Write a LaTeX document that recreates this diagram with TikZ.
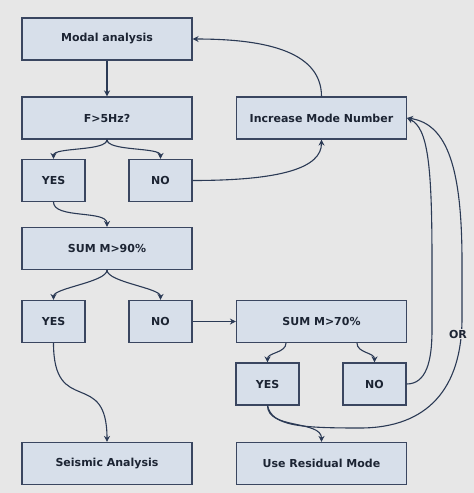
\documentclass[tikz,border=0pt]{standalone}
\usepackage{fontspec}
\setmainfont{DejaVu Sans}
\usetikzlibrary{arrows.meta}
\definecolor{bgc}{HTML}{E7E7E7}
\definecolor{boxfill}{HTML}{D7DFEA}
\definecolor{boxline}{HTML}{3A4660}
\definecolor{txt}{HTML}{1C2433}
\definecolor{arr}{HTML}{2B3A55}
\tikzset{
  box/.style={draw=boxline, fill=boxfill, line width=1.1pt, inner sep=0pt,
    font=\fontsize{11}{13}\selectfont\bfseries, text=txt},
  wide/.style={box, minimum width=170pt, minimum height=42pt},
  small/.style={box, minimum width=63pt, minimum height=42pt},
  conn/.style={draw=arr, line width=1.1pt, -{Stealth[length=6pt,width=6pt]}},
  lbl/.style={fill=bgc, text=txt, inner sep=1pt, font=\fontsize{11}{13}\selectfont\bfseries}
}
\begin{document}
\begin{tikzpicture}[x=1pt,y=-1pt]
\fill[bgc] (0,0) rectangle (474,493);
\useasboundingbox (0,0) rectangle (474,493);

\node[wide] (modal) at (107,39) {Modal analysis};
\node[wide] (f5) at (107,118) {F>5Hz?};
\node[wide] (inc) at (321.5,118) {Increase Mode Number};
\node[small] (yes1) at (53.5,180.5) {YES};
\node[small] (no1) at (160.5,180.5) {NO};
\node[wide] (sum90) at (107,248.5) {SUM M>90\%};
\node[small] (yes2) at (53.5,321.5) {YES};
\node[small] (no2) at (160.5,321.5) {NO};
\node[wide] (sum70) at (321.5,321.5) {SUM M>70\%};
\node[small] (yes3) at (267.5,384) {YES};
\node[small] (no3) at (374.5,384) {NO};
\node[wide] (seis) at (107,463.5) {Seismic Analysis};
\node[wide] (urm) at (321.5,463.5) {Use Residual Mode};

\draw[conn] (modal) -- (f5);
\draw[conn] (f5.south) .. controls +(0,12) and +(0,-12) .. (yes1.north);
\draw[conn] (f5.south) .. controls +(0,12) and +(0,-12) .. (no1.north);
\draw[conn] (no1.east) .. controls +(90,0) and +(0,28) .. (inc.south);
\draw[conn] (inc.north) .. controls +(0,-48) and +(65,0) .. (modal.east);
\draw[conn] (yes1.south) .. controls +(0,17) and +(0,-17) .. (sum90.north);
\draw[conn] (sum90.south) .. controls +(0,12) and +(0,-12) .. (yes2.north);
\draw[conn] (sum90.south) .. controls +(0,12) and +(0,-12) .. (no2.north);
\draw[conn] (no2) -- (sum70);
\draw[conn] (yes2.south) .. controls +(0,75) and +(0,-75) .. (seis.north);
\coordinate (s70a) at ([xshift=-35.5pt]sum70.south);
\coordinate (s70b) at ([xshift=35.5pt]sum70.south);
\draw[conn] (s70a) .. controls +(0,10) and +(0,-10) .. (yes3.north);
\draw[conn] (s70b) .. controls +(0,10) and +(0,-10) .. (no3.north);
\draw[conn] (yes3.south) .. controls +(0,24) and +(0,-22) .. (urm.north);
\coordinate (ina) at (432,330);
\coordinate (inb) at (432,262);
\draw[conn] (no3.east) .. controls (426,384) and (432,362) .. (ina) -- (inb)
  .. controls (432,165) and (428,128) .. (inc.east);
\coordinate (ora) at (360,428);
\coordinate (orb) at (462,318);
\coordinate (orc) at (462,262);
\draw[conn] (yes3.south) .. controls (272,426) and (300,428) .. (ora)
  .. controls (428,428) and (462,388) .. (orb) -- (orc)
  .. controls (462,170) and (448,124) .. (inc.east);
\node[lbl] (or) at (458,334) {OR};
\end{tikzpicture}
\end{document}
